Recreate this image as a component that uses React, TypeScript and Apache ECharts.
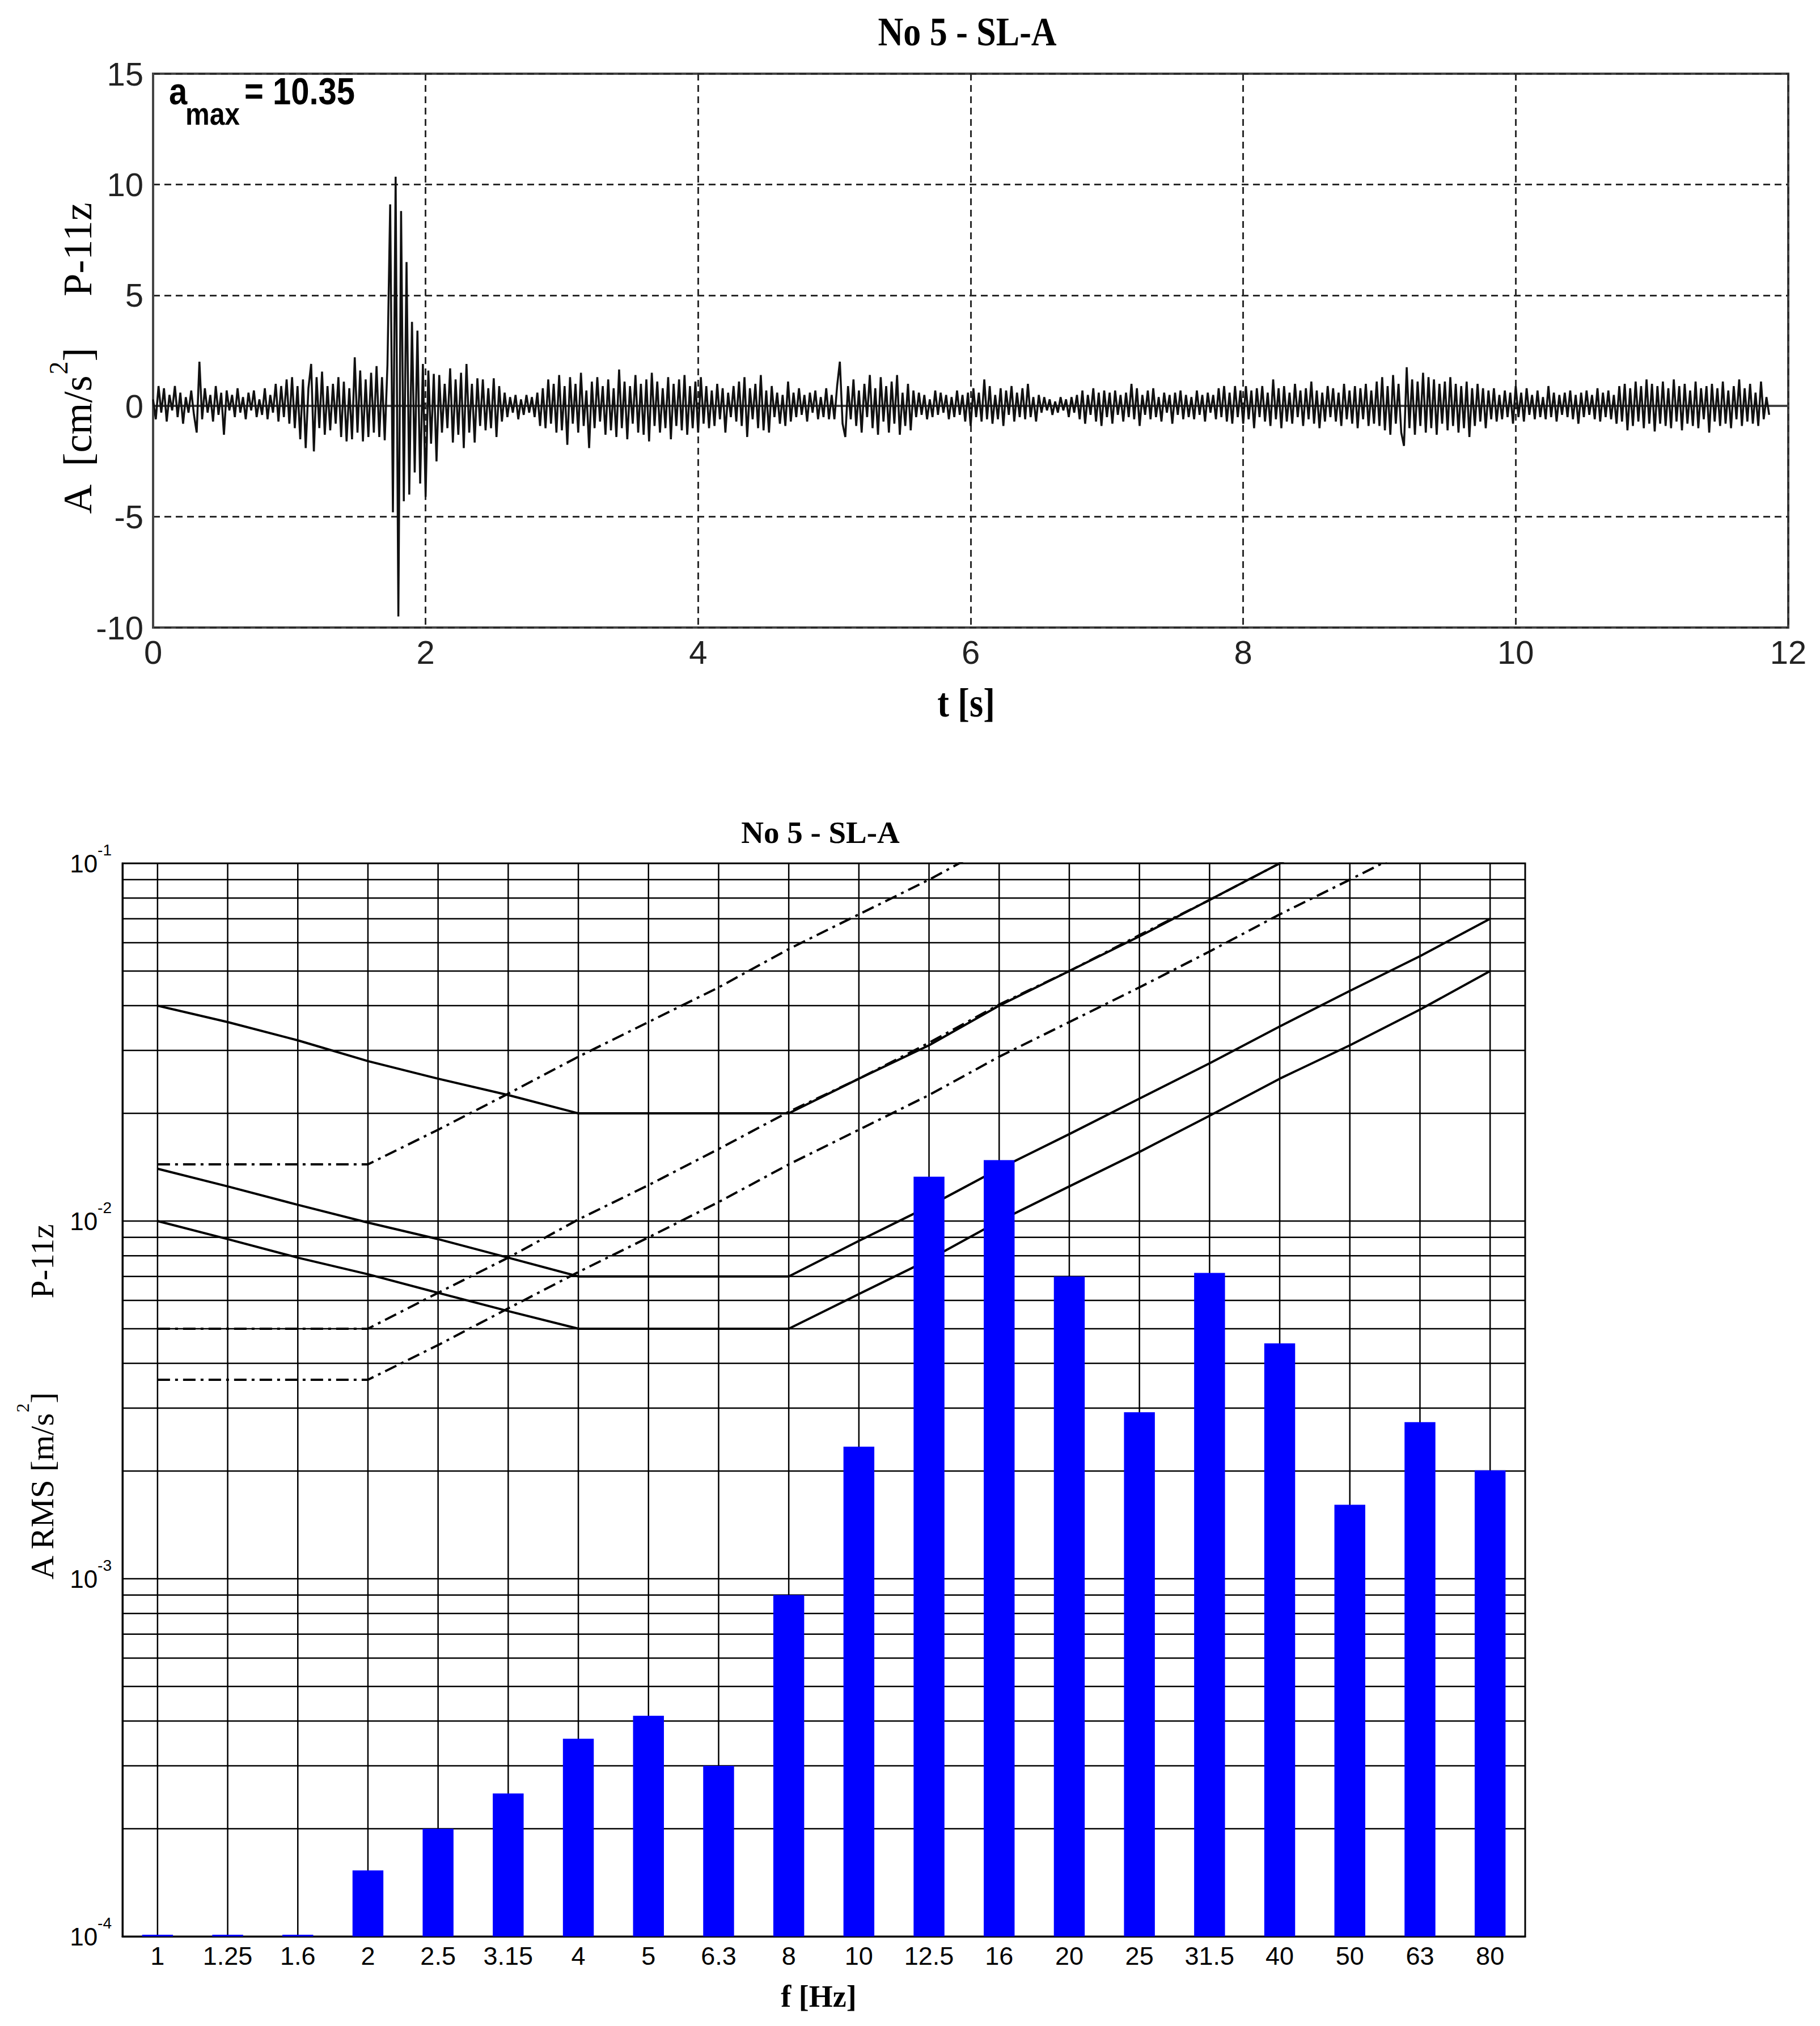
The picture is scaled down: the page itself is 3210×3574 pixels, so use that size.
import React, { useEffect, useRef } from 'react';
import * as echarts from 'echarts';

// ---------- Top plot: acceleration time history (cm/s^2), sampled every DT seconds ----------
const DT = 0.02;
const WAVE_S0 = [0.3, -0.6, 0.9, -0.3, 0.8, -0.7, 0.5, -0.2, 0.9, -0.5, 0.6, -0.8, 0.4, -0.3, 0.7, -0.4, -1.2, 2.0, -0.6, 0.8, -0.3, 0.5, -0.7, 0.9, -0.4, 0.6, -1.3, 0.7, -0.2, 0.5, -0.5, 0.8, -0.3, 0.4, -0.6, 0.6, -0.2, 0.7, -0.5, 0.3, -0.4, 0.8, -0.6, 0.5, -0.3, 1.0, -0.7, 0.9, -0.5, 1.2];
const WAVE_S1 = [-0.8, 1.3, -1.0, 0.9, -1.5, 1.2, -1.9, 0.8, 1.9, -2.05, 1.3, -1.0, 1.55, -1.3, 0.9, -1.1, 1.0, -0.8, 1.3, -1.4, 1.1, -1.6, 0.8, -1.5, 2.2, -1.2, 1.6, -1.6, 1.2, -1.4, 1.5, -1.2, 1.8, -1.4, 1.3, -1.55, 1.85, 9.1, -4.8, 10.35, -9.5, 8.8, -4.3, 6.5, -4.0, 3.8, -3.0, 3.4, -3.5, 1.9];
const WAVE_S2 = [-4.1, 1.6, -1.7, 1.45, -2.5, 1.4, -1.2, 1.0, -1.0, 1.7, -1.65, 1.2, -1.3, 1.5, -1.9, 1.9, -1.2, 1.0, -1.65, 1.25, -0.9, 1.2, -1.1, 0.8, -1.0, 1.25, -1.4, 0.9, -0.7, 0.6, -0.5, 0.4, -0.3, 0.5, -0.6, 0.3, -0.4, 0.5, -0.3, 0.4, -0.5, 0.6, -0.9, 0.8, -1.0, 1.2, -0.8, 1.0, -1.2, 1.4];
const WAVE_S3 = [-1.1, 0.9, -1.75, 1.3, -0.8, 1.0, -1.2, 1.5, -0.9, 0.7, -1.9, 1.1, -1.0, 1.3, -0.7, 0.9, -1.3, 1.2, -1.1, 0.8, -1.4, 1.65, -1.0, 1.1, -1.5, 0.9, -0.8, 1.4, -1.2, 1.0, -1.3, 1.2, -1.6, 1.5, -0.9, 1.1, -1.2, 0.8, -1.0, 1.3, -1.5, 1.0, -0.9, 1.2, -1.1, 1.4, -1.3, 0.9, -1.0, 1.1];
const WAVE_S4 = [-1.2, 1.3, -0.8, 0.9, -1.0, 0.7, -0.9, 1.0, -0.6, 0.8, -1.2, 0.6, -0.5, 0.9, -0.7, 1.1, -0.9, 1.3, -1.4, 0.8, -0.6, 1.0, -1.0, 1.4, -1.1, 0.7, -1.2, 0.9, -0.5, 0.6, -0.8, 0.5, -0.9, 1.1, -0.7, 0.6, -0.5, 0.8, -0.4, 0.5, -0.7, 0.6, -0.3, 0.7, -0.6, 0.4, -0.5, 0.8, -0.6, 0.5];
const WAVE_S5 = [-0.6, 0.9, 2.0, -0.8, -1.4, 0.9, -0.6, 1.2, -0.9, 0.7, -1.2, 1.0, -0.5, 1.4, -1.0, 0.8, -1.3, 1.3, -0.7, 0.9, -1.2, 1.1, -0.8, 1.4, -1.3, 0.6, -0.9, 1.0, -1.1, 0.7, -0.5, 0.6, -0.4, 0.5, -0.6, 0.3, -0.5, 0.7, -0.4, 0.6, -0.3, 0.5, -0.6, 0.4, -0.5, 0.7, -0.4, 0.5, -0.7, 0.6];
const WAVE_S6 = [-0.9, 0.8, -0.5, 0.6, -0.7, 1.2, -0.6, 0.9, -0.8, 0.5, -0.6, 0.8, -0.9, 0.7, -0.4, 0.9, -0.7, 0.6, -0.5, 0.8, -0.6, 1.0, -0.5, 0.4, -0.7, 0.5, -0.3, 0.4, -0.2, 0.3, -0.4, 0.2, -0.3, 0.4, -0.2, 0.3, -0.5, 0.4, -0.3, 0.5, -0.6, 0.7, -0.8, 0.5, -0.4, 0.8, -0.7, 0.6, -0.9, 0.7];
const WAVE_S7 = [-0.5, 0.6, -0.8, 0.7, -0.4, 0.5, -0.7, 0.6, -0.5, 1.0, -0.6, 0.8, -0.9, 0.5, -0.4, 0.7, -0.6, 0.8, -0.5, 0.4, -0.7, 0.6, -0.3, 0.5, -0.8, 0.6, -0.4, 0.7, -0.6, 0.5, -0.5, 0.4, -0.6, 0.7, -0.4, 0.5, -0.7, 0.6, -0.3, 0.5, -0.6, 0.8, -0.5, 0.9, -0.7, 0.6, -0.8, 0.9, -0.5, 0.7];
const WAVE_S8 = [-0.8, 0.9, -0.6, 0.7, -1.0, 0.8, -0.5, 0.9, -0.7, 0.6, -0.9, 1.2, -0.6, 0.8, -1.0, 0.9, -0.7, 0.6, -0.8, 1.0, -0.5, 0.7, -0.9, 0.8, -0.6, 1.1, -0.8, 0.7, -1.0, 0.6, -0.7, 0.9, -0.5, 0.8, -0.7, 0.6, -0.9, 1.0, -0.6, 0.7, -0.8, 0.9, -1.0, 0.8, -0.6, 1.0, -0.9, 0.7, -0.8, 1.1];
const WAVE_S9 = [-0.9, 1.3, -1.1, 0.9, -1.3, 1.4, -0.8, 1.0, -1.2, -1.8, 1.75, -1.0, 1.2, -1.3, 1.1, -0.9, 1.5, -1.2, 1.3, -1.0, 1.2, -1.3, 1.0, -0.8, 1.1, -1.1, 1.3, -0.9, 1.0, -1.2, 0.9, -1.0, 1.1, -1.4, 0.8, -0.9, 1.0, -0.7, 0.8, -1.0, 0.7, -0.6, 0.8, -0.7, 0.5, -0.6, 0.7, -0.5, 0.6, -0.8];
const WAVE_S10 = [0.9, -0.5, 0.6, -0.7, 0.8, -0.4, 0.5, -0.6, 0.7, -0.5, 0.4, -0.6, 0.9, -0.5, 0.6, -0.7, 0.5, -0.4, 0.6, -0.5, 0.7, -0.6, 0.5, -0.8, 0.6, -0.5, 0.7, -0.4, 0.5, -0.6, 0.8, -0.7, 0.6, -0.5, 0.7, -0.6, 0.5, -0.8, 0.9, -0.7, 1.0, -1.1, 0.8, -0.9, 1.1, -0.7, 0.9, -1.0, 1.2, -0.8];
const WAVE_S11 = [1.0, -1.15, 0.9, -0.8, 1.1, -0.9, 0.8, -1.0, 1.2, -0.7, 0.9, -1.1, 1.0, -0.8, 0.7, -0.9, 1.1, -1.0, 0.8, -0.6, 0.9, -1.2, 1.0, -0.7, 0.8, -0.9, 1.1, -0.8, 0.7, -1.0, 0.9, -0.6, 1.2, -0.9, 0.8, -0.7, 1.0, -0.8, 0.6, -0.9, 1.1, -0.6, 0.4, -0.4];
const WAVE = [...WAVE_S0, ...WAVE_S1, ...WAVE_S2, ...WAVE_S3, ...WAVE_S4, ...WAVE_S5, ...WAVE_S6, ...WAVE_S7, ...WAVE_S8, ...WAVE_S9, ...WAVE_S10, ...WAVE_S11];

// ---------- Bottom plot: 1/3 octave RMS spectrum (m/s^2) ----------
const FREQS = ['1', '1.25', '1.6', '2', '2.5', '3.15', '4', '5', '6.3', '8', '10', '12.5', '16', '20', '25', '31.5', '40', '50', '63', '80'];
const BAR_RMS = [1.0e-4, 1.0e-4, 1.0e-4, 1.53e-4, 2.0e-4, 2.51e-4, 3.57e-4, 4.14e-4, 3.0e-4, 9.0e-4, 2.34e-3, 1.33e-2, 1.48e-2, 7.0e-3, 2.92e-3, 7.16e-3, 4.55e-3, 1.61e-3, 2.74e-3, 2.01e-3];
// limit curves (solid: z-axis, dash-dot: x/y axis), read at each band
const Z_LIMIT_1 = [0.01, 0.0089, 0.0079, 0.0071, 0.0063, 0.0056, 0.005, 0.005, 0.005, 0.005, 0.00625, 0.0078, 0.01, 0.0125, 0.0156, 0.0197, 0.025, 0.031, 0.039, 0.05];
const Z_LIMIT_14 = [0.014, 0.0125, 0.0111, 0.0099, 0.0089, 0.0079, 0.007, 0.007, 0.007, 0.007, 0.0088, 0.011, 0.014, 0.0175, 0.022, 0.0276, 0.035, 0.044, 0.055, 0.07];
const Z_LIMIT_4 = [0.04, 0.036, 0.032, 0.028, 0.025, 0.0225, 0.02, 0.02, 0.02, 0.02, 0.025, 0.031, 0.04, 0.05, 0.0625, 0.079, 0.1, 0.125, 0.158, 0.2];
const XY_LIMIT_1 = [0.0036, 0.0036, 0.0036, 0.0036, 0.0045, 0.0057, 0.0072, 0.009, 0.0113, 0.0144, 0.018, 0.0225, 0.0288, 0.036, 0.045, 0.0567, 0.072, 0.09, 0.113, 0.144];
const XY_LIMIT_14 = [0.005, 0.005, 0.005, 0.005, 0.0063, 0.0079, 0.0101, 0.0126, 0.0159, 0.0202, 0.025, 0.0315, 0.0403, 0.05, 0.063, 0.079, 0.1, 0.126, 0.159, 0.2];
const XY_LIMIT_4 = [0.0144, 0.0144, 0.0144, 0.0144, 0.018, 0.0227, 0.0288, 0.036, 0.045, 0.0576, 0.072, 0.09, 0.115, 0.144, 0.18, 0.227, 0.288, 0.36, 0.45, 0.576];
// horizontal grid values of the log axis
const LOG_GRID_VALUES = [
  0.0002, 0.0003, 0.0004, 0.0005, 0.0006, 0.0007, 0.0008, 0.0009,
  0.001, 0.002, 0.003, 0.004, 0.005, 0.006, 0.007, 0.008, 0.009,
  0.01, 0.02, 0.03, 0.04, 0.05, 0.06, 0.07, 0.08, 0.09,
];
const Y_MIN_LOG = 1e-4;
const Y_MAX_LOG = 0.1;

const SERIF = "'Liberation Serif', 'Times New Roman', serif";
const SANS = "'Liberation Sans', Arial, sans-serif";

export default function App() {
  const ref = useRef<HTMLDivElement>(null);

  useEffect(() => {
    const el = ref.current;
    if (!el) return;
    const chart = echarts.init(el, null, { renderer: 'svg' });

    const wavePoints = WAVE.map((v, i) => [Number((i * DT).toFixed(2)), v]);
    const barData = BAR_RMS.map((v, i) => [i, v]);
    const hGridData = LOG_GRID_VALUES.map((v) => [0, v]);
    const vGridData = FREQS.map((_, i) => [i, Y_MAX_LOG]);

    const limitLine = (data: number[], dashed: boolean) => ({
      type: 'line',
      xAxisIndex: 1,
      yAxisIndex: 1,
      data,
      symbol: 'none',
      clip: true,
      z: 3,
      silent: true,
      lineStyle: { color: '#000', width: 4, type: dashed ? [22, 9, 5, 9] : 'solid' },
    });

    const gridStroke = { stroke: '#000', lineWidth: 2.5 };

    const option: any = {
      animation: false,
      backgroundColor: '#ffffff',
      grid: [
        { left: 270, top: 130, width: 2884, height: 977, show: true, borderColor: '#444', borderWidth: 4, backgroundColor: 'transparent' },
        { left: 216, top: 1523, width: 2474, height: 1893, show: true, borderColor: '#000', borderWidth: 3, backgroundColor: 'transparent' },
      ],
      xAxis: [
        {
          type: 'value', gridIndex: 0, min: 0, max: 12, interval: 2,
          axisLine: { show: true, lineStyle: { color: '#444', width: 4 } },
          axisTick: { show: false },
          axisLabel: { fontSize: 58, fontFamily: SANS, color: '#222', margin: 14 },
          splitLine: { show: true, lineStyle: { color: '#2a2a2a', width: 3, type: [12, 8] } },
        },
        {
          type: 'category', gridIndex: 1, data: FREQS, boundaryGap: true,
          axisLine: { show: true, lineStyle: { color: '#000', width: 3 } },
          axisTick: { show: false },
          axisLabel: { interval: 0, fontSize: 45, fontFamily: SANS, color: '#000', margin: 12 },
          splitLine: { show: false },
        },
      ],
      yAxis: [
        {
          type: 'value', gridIndex: 0, min: -10, max: 15, interval: 5,
          axisLine: { show: true, lineStyle: { color: '#444', width: 4 } },
          axisTick: { show: false },
          axisLabel: { fontSize: 58, fontFamily: SANS, color: '#222', margin: 17 },
          splitLine: { show: true, lineStyle: { color: '#2a2a2a', width: 3, type: [12, 8] } },
        },
        {
          type: 'log', gridIndex: 1, min: Y_MIN_LOG, max: Y_MAX_LOG, logBase: 10, splitNumber: 3,
          axisLine: { show: true, lineStyle: { color: '#000', width: 3 } },
          axisTick: { show: false },
          splitLine: { show: false },
          axisLabel: {
            margin: 19,
            formatter: (v: number) => '{b|10}{s|' + Math.round(Math.log10(v)) + '}',
            rich: {
              b: { fontSize: 44, fontFamily: SANS, color: '#000', lineHeight: 76 },
              s: { fontSize: 28, fontFamily: SANS, color: '#000', lineHeight: 28, verticalAlign: 'top' },
            },
          },
        },
      ],
      series: [
        {
          type: 'line', xAxisIndex: 0, yAxisIndex: 0, data: wavePoints,
          symbol: 'none', z: 3, silent: true,
          lineStyle: { color: '#111', width: 3.5 },
        },
        // horizontal grid lines of the log plot
        {
          type: 'custom', xAxisIndex: 1, yAxisIndex: 1, data: hGridData, z: 1, silent: true,
          encode: { x: 0, y: 1 },
          renderItem: (params: any, api: any) => {
            const cs = params.coordSys;
            const y = api.coord([0, api.value(1)])[1];
            return { type: 'line', shape: { x1: cs.x, y1: y, x2: cs.x + cs.width, y2: y }, style: gridStroke };
          },
        },
        // vertical grid lines at each band centre
        {
          type: 'custom', xAxisIndex: 1, yAxisIndex: 1, data: vGridData, z: 1, silent: true,
          encode: { x: 0, y: 1 },
          renderItem: (params: any, api: any) => {
            const cs = params.coordSys;
            const x = api.coord([api.value(0), api.value(1)])[0];
            return { type: 'line', shape: { x1: x, y1: cs.y, x2: x, y2: cs.y + cs.height }, style: gridStroke };
          },
        },
        limitLine(Z_LIMIT_1, false),
        limitLine(Z_LIMIT_14, false),
        limitLine(Z_LIMIT_4, false),
        limitLine(XY_LIMIT_1, true),
        limitLine(XY_LIMIT_14, true),
        limitLine(XY_LIMIT_4, true),
        {
          type: 'custom', xAxisIndex: 1, yAxisIndex: 1, data: barData, z: 5, silent: true,
          encode: { x: 0, y: 1 },
          renderItem: (params: any, api: any) => {
            const i = api.value(0);
            const v = api.value(1);
            const top = api.coord([i, v]);
            const base = api.coord([i, Y_MIN_LOG]);
            const band = api.coord([1, v])[0] - api.coord([0, v])[0];
            const w = band * 0.44;
            const h = Math.max(base[1] - top[1], 3);
            return {
              type: 'rect',
              shape: { x: top[0] - w / 2, y: base[1] - h, width: w, height: h },
              style: { fill: '#0000ff' },
            };
          },
        },
      ],
      graphic: [
        { type: 'text', x: 1706, y: 56, scaleY: 1.17, silent: true, style: { text: 'No 5 - SL-A', fontSize: 62, fontWeight: 'bold', fontFamily: SERIF, fill: '#000', align: 'center', verticalAlign: 'middle' } },
        { type: 'text', x: 1704, y: 1240, scaleY: 1.17, silent: true, style: { text: 't [s]', fontSize: 62, fontWeight: 'bold', fontFamily: SERIF, fill: '#000', align: 'center', verticalAlign: 'middle' } },
        { type: 'text', x: 137, y: 440, rotation: Math.PI / 2, silent: true, style: { text: 'P-11z', fontSize: 72, fontFamily: SERIF, fill: '#000', align: 'center', verticalAlign: 'middle' } },
        {
          type: 'text', x: 137, y: 761, rotation: Math.PI / 2, silent: true,
          style: {
            text: '{n|A  [cm/s}{s|2}{n|]}', align: 'center', verticalAlign: 'middle',
            rich: {
              n: { fontSize: 72, fontFamily: SERIF, fill: '#000', color: '#000', lineHeight: 114 },
              s: { fontSize: 46, fontFamily: SERIF, fill: '#000', color: '#000', lineHeight: 46, verticalAlign: 'top' },
            },
          },
        },
        { type: 'text', x: 298, y: 161, scaleY: 1.15, silent: true, style: { text: 'a', fontSize: 58, fontWeight: 'bold', fontFamily: SANS, fill: '#000', align: 'left', verticalAlign: 'middle' } },
        { type: 'text', x: 327, y: 201, scaleY: 1.15, silent: true, style: { text: 'max', fontSize: 48, fontWeight: 'bold', fontFamily: SANS, fill: '#000', align: 'left', verticalAlign: 'middle' } },
        { type: 'text', x: 431, y: 161, scaleY: 1.15, silent: true, style: { text: '= 10.35', fontSize: 58, fontWeight: 'bold', fontFamily: SANS, fill: '#000', align: 'left', verticalAlign: 'middle' } },
        { type: 'text', x: 1447, y: 1468, silent: true, style: { text: 'No 5 - SL-A', fontSize: 55, fontWeight: 'bold', fontFamily: SERIF, fill: '#000', align: 'center', verticalAlign: 'middle' } },
        { type: 'text', x: 1444, y: 3522, silent: true, style: { text: 'f [Hz]', fontSize: 54, fontWeight: 'bold', fontFamily: SERIF, fill: '#000', align: 'center', verticalAlign: 'middle' } },
        { type: 'text', x: 74, y: 2225, rotation: Math.PI / 2, silent: true, style: { text: 'P-11z', fontSize: 57, fontFamily: SERIF, fill: '#000', align: 'center', verticalAlign: 'middle' } },
        {
          type: 'text', x: 74, y: 2622, rotation: Math.PI / 2, silent: true,
          style: {
            text: '{n|A RMS [m/s}{s|2}{n|]}', align: 'center', verticalAlign: 'middle',
            rich: {
              n: { fontSize: 58, fontFamily: SERIF, fill: '#000', color: '#000', lineHeight: 100 },
              s: { fontSize: 32, fontFamily: SERIF, fill: '#000', color: '#000', lineHeight: 32, verticalAlign: 'top' },
            },
          },
        },
      ],
    };

    chart.setOption(option);
    return () => chart.dispose();
  }, []);

  return <div ref={ref} style={{ position: 'absolute', left: 0, top: 0, width: 3210, height: 3574, background: '#fff' }} />;
}
